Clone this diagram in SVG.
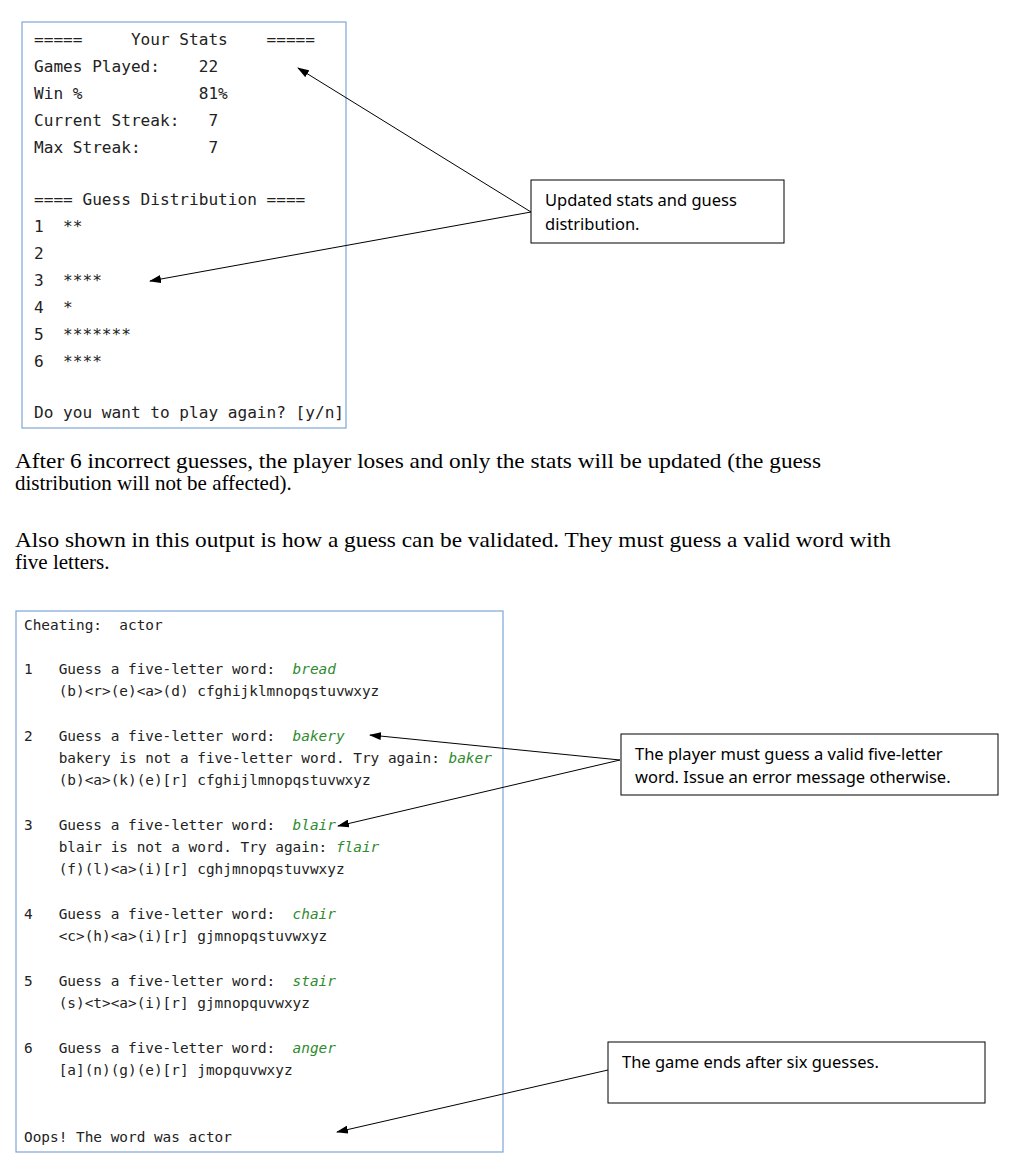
<svg xmlns="http://www.w3.org/2000/svg" width="1014" height="1172" viewBox="0 0 1014 1172">
<style>
.m{font-family:"DejaVu Sans Mono","Liberation Mono",monospace;fill:#222;white-space:pre}
.a{font-size:16.1px}.b{font-size:14.4px}
.g{fill:#2e8b2e;font-style:italic}
.t{font-family:"Liberation Serif",serif;font-size:21px;fill:#000}
.c{font-family:"Noto Sans","Liberation Sans",sans-serif;font-size:16.5px;fill:#000}
.box{fill:#fff;stroke:#7ea6d8;stroke-width:1.2}
.cb{fill:#fff;stroke:#000;stroke-width:1}
.ln{stroke:#000;stroke-width:1;fill:none;marker-end:url(#ah)}
</style>
<defs><marker id="ah" markerWidth="12" markerHeight="8" refX="11" refY="4" orient="auto" markerUnits="userSpaceOnUse"><path d="M0,0L12,4L0,8z" fill="#000"/></marker></defs>
<rect width="1014" height="1172" fill="#fff"/>
<g id="stats">
<rect class="box" x="22" y="22" width="324" height="406"/>
<text class="m a" xml:space="preserve" x="34" y="45">=====     Your Stats    =====</text>
<text class="m a" xml:space="preserve" x="34" y="72">Games Played:    22</text>
<text class="m a" xml:space="preserve" x="34" y="99">Win %            81%</text>
<text class="m a" xml:space="preserve" x="34" y="126">Current Streak:   7</text>
<text class="m a" xml:space="preserve" x="34" y="153">Max Streak:       7</text>
<text class="m a" xml:space="preserve" x="34" y="205">==== Guess Distribution ====</text>
<text class="m a" xml:space="preserve" x="34" y="232">1  **</text>
<text class="m a" xml:space="preserve" x="34" y="259">2</text>
<text class="m a" xml:space="preserve" x="34" y="286">3  ****</text>
<text class="m a" xml:space="preserve" x="34" y="313">4  *</text>
<text class="m a" xml:space="preserve" x="34" y="340">5  *******</text>
<text class="m a" xml:space="preserve" x="34" y="367">6  ****</text>
<text class="m a" xml:space="preserve" x="34" y="418">Do you want to play again? [y/n]</text>
</g>
<g id="para">
<text class="t" x="15" y="468" textLength="806" lengthAdjust="spacingAndGlyphs">After 6 incorrect guesses, the player loses and only the stats will be updated (the guess</text>
<text class="t" x="15" y="490">distribution will not be affected).</text>
<text class="t" x="15" y="547" textLength="876" lengthAdjust="spacingAndGlyphs">Also shown in this output is how a guess can be validated. They must guess a valid word with</text>
<text class="t" x="15" y="569">five letters.</text>
</g>
<g id="game">
<rect class="box" x="16" y="611" width="487" height="541"/>
<text class="m b" xml:space="preserve" x="24" y="630">Cheating:  actor</text>
<text class="m b" xml:space="preserve" x="24" y="674">1   Guess a five-letter word:  <tspan class="g">bread</tspan></text>
<text class="m b" xml:space="preserve" x="24" y="696">    (b)&lt;r&gt;(e)&lt;a&gt;(d) cfghijklmnopqstuvwxyz</text>
<text class="m b" xml:space="preserve" x="24" y="741">2   Guess a five-letter word:  <tspan class="g">bakery</tspan></text>
<text class="m b" xml:space="preserve" x="24" y="763">    bakery is not a five-letter word. Try again: <tspan class="g">baker</tspan></text>
<text class="m b" xml:space="preserve" x="24" y="785">    (b)&lt;a&gt;(k)(e)[r] cfghijlmnopqstuvwxyz</text>
<text class="m b" xml:space="preserve" x="24" y="830">3   Guess a five-letter word:  <tspan class="g">blair</tspan></text>
<text class="m b" xml:space="preserve" x="24" y="852">    blair is not a word. Try again: <tspan class="g">flair</tspan></text>
<text class="m b" xml:space="preserve" x="24" y="874">    (f)(l)&lt;a&gt;(i)[r] cghjmnopqstuvwxyz</text>
<text class="m b" xml:space="preserve" x="24" y="919">4   Guess a five-letter word:  <tspan class="g">chair</tspan></text>
<text class="m b" xml:space="preserve" x="24" y="941">    &lt;c&gt;(h)&lt;a&gt;(i)[r] gjmnopqstuvwxyz</text>
<text class="m b" xml:space="preserve" x="24" y="986">5   Guess a five-letter word:  <tspan class="g">stair</tspan></text>
<text class="m b" xml:space="preserve" x="24" y="1008">    (s)&lt;t&gt;&lt;a&gt;(i)[r] gjmnopquvwxyz</text>
<text class="m b" xml:space="preserve" x="24" y="1053">6   Guess a five-letter word:  <tspan class="g">anger</tspan></text>
<text class="m b" xml:space="preserve" x="24" y="1075">    [a](n)(g)(e)[r] jmopquvwxyz</text>
<text class="m b" xml:space="preserve" x="24" y="1142">Oops! The word was actor</text>
</g>
<g id="note1"><rect class="cb" x="531" y="180" width="253" height="63"/>
<text class="c" x="545" y="206">Updated stats and guess</text><text class="c" x="545" y="230">distribution.</text></g>
<g id="note2"><rect class="cb" x="621" y="734" width="377" height="61"/>
<text class="c" x="635" y="760">The player must guess a valid five-letter</text><text class="c" x="635" y="783">word. Issue an error message otherwise.</text></g>
<g id="note3"><rect class="cb" x="608" y="1042" width="377" height="61"/>
<text class="c" x="622" y="1068">The game ends after six guesses.</text></g>
<g id="connectors">
<path class="ln" d="M531,212L298,68"/>
<path class="ln" d="M531,212L150,281"/>
<path class="ln" d="M620,760L370,735"/>
<path class="ln" d="M620,760L338,826"/>
<path class="ln" d="M608,1070L337,1132"/>
</g>
</svg>
